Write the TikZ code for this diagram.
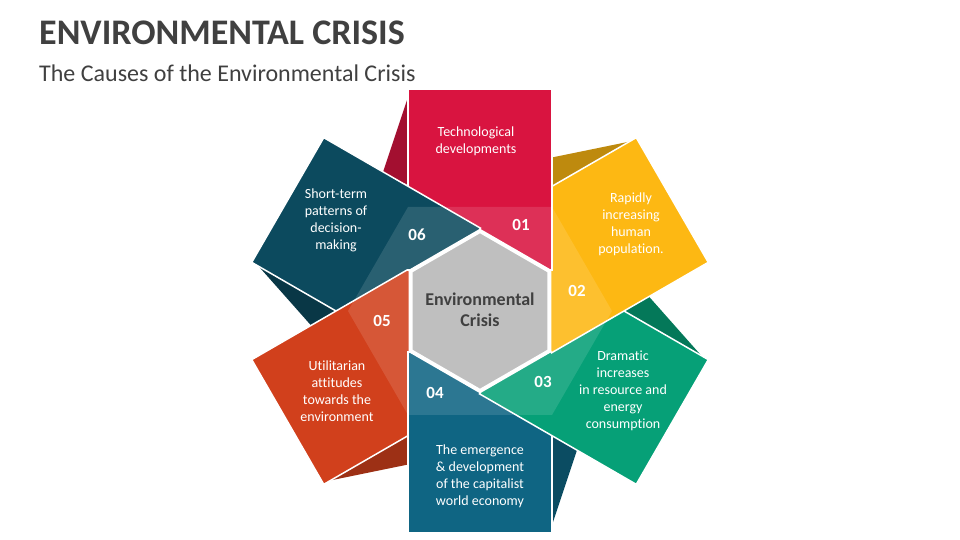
\documentclass[tikz,border=0pt]{standalone}
\usepackage{fontspec}
\setmainfont{Carlito}[Ligatures=NoCommon]
\usepackage{xcolor}
\usetikzlibrary{positioning}
\definecolor{cRed}{RGB}{217,20,64}
\definecolor{cGold}{RGB}{253,184,19}
\definecolor{cGreen}{RGB}{6,160,119}
\definecolor{cBlue}{RGB}{15,101,131}
\definecolor{cOrange}{RGB}{209,64,28}
\definecolor{cTeal}{RGB}{12,74,94}
\definecolor{cCore}{RGB}{191,191,191}
\definecolor{cInk}{RGB}{64,64,64}
\tikzset{
	piece/.style    ={draw=white, line width=1.5pt, line join=miter},
	flap/.style     ={draw=none},
	gloss/.style    ={fill=white, opacity=0.12},
	corehex/.style  ={draw=white, line width=4pt, fill=cCore, line join=miter},
	cause/.style    ={text=white, align=center, font=\fontsize{14}{17}\selectfont},
	num/.style      ={text=white, font=\fontsize{17}{19}\selectfont\bfseries},
}

\begin{document}
\begin{tikzpicture}[x=1pt, y=1pt]
	\fill[white] (0,0) rectangle (960,540);
	\useasboundingbox (0,0) rectangle (960,540);
	% dark folds behind the blades
	\foreach \ang/\col in {0/cRed, -60/cGold, -120/cGreen, 180/cBlue, 120/cOrange, 60/cTeal}
		\fill[flap, fill=\col!75!black, shift={(480,229)}, rotate=\ang] (-72,214) -- (-97,139) -- (-72,124.7) -- cycle;
	% blades, each one over its clockwise neighbour
	\foreach \ang/\col in {60/cTeal, 120/cOrange, 180/cBlue, -120/cGreen, -60/cGold, 0/cRed}
		\filldraw[piece, fill=\col, shift={(480,229)}, rotate=\ang] (-72,41) -- (72,41) -- (72,222) -- (-72,222) -- cycle;
	\begin{scope}
		\clip (404,271) rectangle (960,540);
		\filldraw[piece, fill=cTeal, shift={(480,229)}, rotate=60] (-72,41) -- (72,41) -- (72,222) -- (-72,222) -- cycle;
	\end{scope}
	\fill[gloss] (408,333) -- (552,333) -- (612,229) -- (552,125) -- (408,125) -- (348,229) -- cycle;
	\draw[corehex] (480,309) -- (549.3,269) -- (549.3,189) -- (480,149) -- (410.7,189) -- (410.7,269) -- cycle;
	\node[text=cInk, align=center, font=\fontsize{18}{21}\selectfont\bfseries] (core) at (480,230) {Environmental\\Crisis};

	\node[cause] (c1) at (476,399) {Technological\\developments};
	\node[cause] (c2) at (631,316) {Rapidly\\increasing\\human\\population.};
	\node[cause] (c3) at (623,149) {Dramatic\\increases\\in resource and\\energy\\consumption};
	\node[cause] (c4) at (480,64) {The emergence\\\& development\\of the capitalist\\world economy};
	\node[cause] (c5) at (337,149) {Utilitarian\\attitudes\\towards the\\environment};
	\node[cause] (c6) at (336,320) {Short-term\\patterns of\\decision-\\making};

	\node[num] (n1) at (521,315) {01};
	\node[num] (n2) at (577,249) {02};
	\node[num] (n3) at (543,158) {03};
	\node[num] (n4) at (435,147) {04};
	\node[num] (n5) at (382,219) {05};
	\node[num] (n6) at (417,305) {06};

	\node[anchor=west, text=cInk, font=\fontsize{36}{40}\selectfont\bfseries, inner sep=0pt] (title) at (39,507) {ENVIRONMENTAL CRISIS};
	\node[anchor=west, text=cInk, font=\fontsize{24}{28}\selectfont, inner sep=0pt] (subtitle) at (39,467) {The Causes of the Environmental Crisis};
\end{tikzpicture}
\end{document}
